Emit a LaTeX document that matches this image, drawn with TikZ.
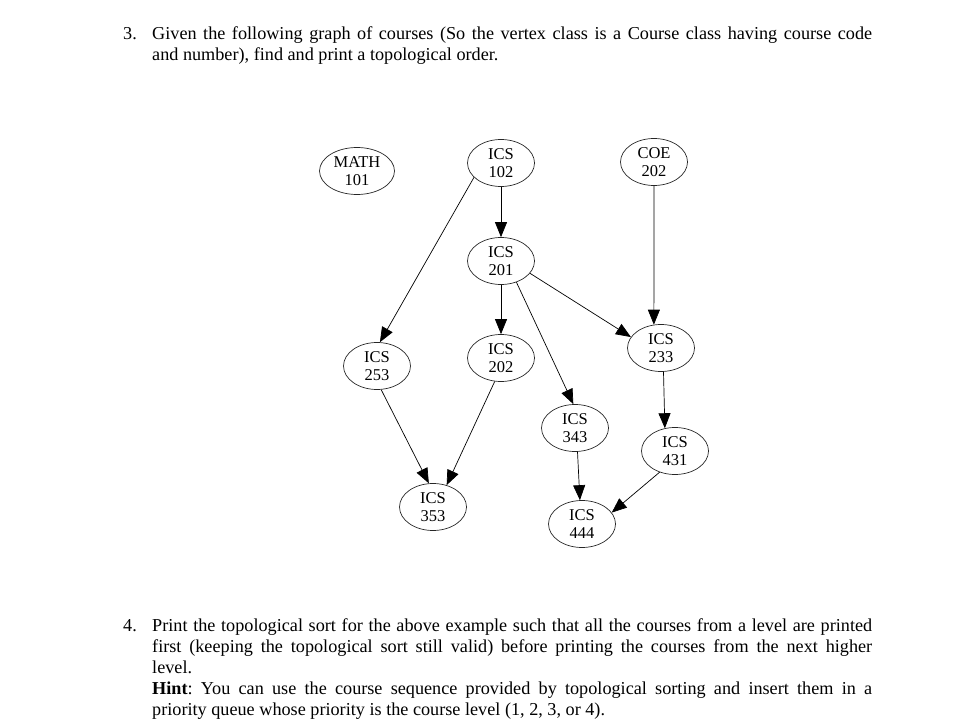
\documentclass[tikz,border=0pt]{standalone}
\usepackage{fontspec}
\setmainfont{Liberation Serif}
\usetikzlibrary{shapes.geometric,arrows.meta}

\begin{document}
\begin{tikzpicture}[x=1pt,y=-1pt,
		course/.style={ellipse,draw=black!85,line width=0.7pt,minimum width=67pt,minimum height=47pt,inner sep=0pt,align=center,font=\fontsize{16.5}{17.5}\selectfont},
		prereq/.style={line width=0.7pt,-{Triangle[length=15pt,width=12pt]}},
		txt/.style={anchor=base west,inner sep=0pt,font=\fontsize{18.2}{21}\selectfont\frenchspacing}]
		\useasboundingbox (0,0) rectangle (959,727);
		\node[txt] (num3) at (123,40) {3.};
		\node[txt] (q3a) at (152,40) {\makebox[720pt][s]{Given the following graph of courses (So the vertex class is a Course class having course code}};
		\node[txt] (q3b) at (152,61) {and number), find and print a topological order.};
		\node[course,minimum width=75pt] (math101) at (357,171) {MATH\\101};
		\node[course] (ics102) at (501,163) {ICS\\102};
		\node[course] (coe202) at (654,162) {COE\\202};
		\node[course] (ics201) at (501,261) {ICS\\201};
		\node[course] (ics253) at (377,366) {ICS\\253};
		\node[course] (ics202) at (501,358) {ICS\\202};
		\node[course] (ics233) at (661,348) {ICS\\233};
		\node[course] (ics343) at (575,428) {ICS\\343};
		\node[course] (ics431) at (675,451) {ICS\\431};
		\node[course] (ics353) at (433,507) {ICS\\353};
		\node[course] (ics444) at (582,524) {ICS\\444};
		\draw[prereq] (ics102.208) -- (ics253.83);
		\draw[prereq] (ics102) -- (ics201);
		\draw[prereq] (ics201) -- (ics202);
		\draw[prereq] (ics201.-54) -- (ics343.94);
		\draw[prereq] (ics201.-23) -- (ics233.160);
		\draw[prereq] (coe202.south) -- (ics233.107);
		\draw[prereq] (ics233.-84) -- (ics431.114);
		\draw[prereq] (ics253.-80) -- (ics353.100);
		\draw[prereq] (ics202.255) -- (ics353.58);
		\draw[prereq] (ics343.-84) -- (ics444.95);
		\draw[prereq] (ics431.234) -- (ics444.21);
		\node[txt] (num4) at (123,631) {4.};
		\node[txt] (q4a) at (152,631) {\makebox[720pt][s]{Print the topological sort for the above example such that all the courses from a level are printed}};
		\node[txt] (q4b) at (152,652) {\makebox[720pt][s]{first (keeping the topological sort still valid) before printing the courses from the next higher}};
		\node[txt] (q4c) at (152,673) {level.};
		\node[txt] (q4d) at (152,694) {\makebox[720pt][s]{\textbf{Hint}: You can use the course sequence provided by topological sorting and insert them in a}};
		\node[txt] (q4e) at (152,715) {priority queue whose priority is the course level (1, 2, 3, or 4).};
	\end{tikzpicture}
\end{document}
